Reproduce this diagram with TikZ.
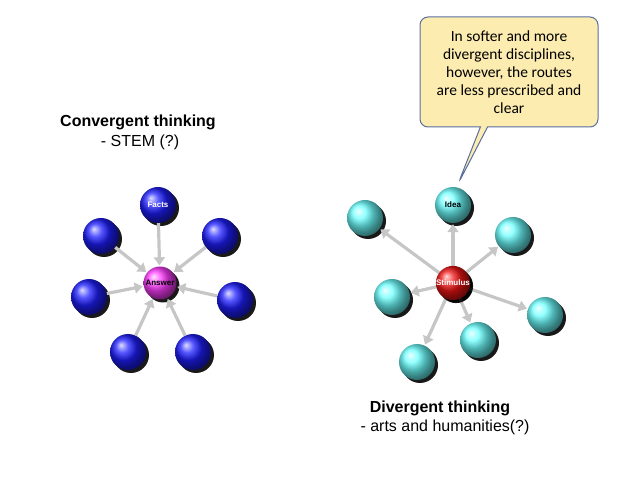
\documentclass[tikz,border=0pt]{standalone}
\usepackage{fontspec}
\setmainfont{Liberation Sans}
\newfontfamily\callfont{Carlito}
\usetikzlibrary{arrows.meta,shapes.callouts,shadows}
\definecolor{callfill}{RGB}{252,236,176}
\definecolor{callline}{RGB}{90,110,160}
\definecolor{bblue}{RGB}{30,30,255}
\definecolor{bcyan}{RGB}{110,255,255}
\definecolor{bmag}{RGB}{255,60,255}
\definecolor{bred}{RGB}{240,20,20}
\begin{document}
\begin{tikzpicture}[x=1pt,y=-1pt,
  ball/.style={circle,minimum size=36pt,inner sep=0pt,ball color=#1,draw=none,
     drop shadow={shadow xshift=3pt,shadow yshift=-3pt,fill=black,opacity=0.9}},
  hub/.style={circle,minimum size=33pt,inner sep=0pt,ball color=#1,draw=none,
     drop shadow={shadow xshift=3pt,shadow yshift=-3pt,fill=black,opacity=0.9}},
  arr/.style={draw=gray!45,line width=3.2pt,-{Triangle[length=8pt,width=11pt]},shorten >=1pt},
  lbl/.style={font=\fontsize{8}{9}\selectfont\bfseries}]
\useasboundingbox (0,0) rectangle (638,478);
% left
\node[hub=bmag,lbl] (ans) at (160,283) {Answer};
\node[ball=bblue,lbl,text=white] (facts) at (158,205) {Facts};
\node[ball=bblue] (l1) at (101,236) {};
\node[ball=bblue] (l2) at (220,236) {};
\node[ball=bblue] (l3) at (89,297) {};
\node[ball=bblue] (l4) at (235,300) {};
\node[ball=bblue] (l5) at (128,352) {};
\node[ball=bblue] (l6) at (193,352) {};
\foreach \n in {facts,l1,l2,l3,l4,l5,l6} \draw[arr] (\n) -- (ans);
% right
\node[ball=bcyan] (idea) at (453,205) {};
\node[lbl] at (idea) {Idea};
\node[ball=bcyan] (r1) at (365,218) {};
\node[ball=bcyan] (r2) at (513,235) {};
\node[ball=bcyan] (r3) at (392,297) {};
\node[ball=bcyan] (r4) at (545,315) {};
\node[ball=bcyan] (r5) at (478,340) {};
\node[ball=bcyan] (r6) at (417,362) {};
\node[hub=bred] (stim) at (453,283) {};
\foreach \n in {idea,r1,r2,r3,r4,r5,r6} \draw[arr] (stim) -- (\n);
\node[hub=bred,lbl,text=white] at (453,283) {Stimulus};
% texts
\node[font=\fontsize{16}{18}\selectfont\bfseries] (ct) at (138,122) {Convergent thinking};
\node[font=\fontsize{16}{18}\selectfont] (st) at (140,142) {- STEM (?)};
\node[font=\fontsize{16}{18}\selectfont\bfseries] (dt) at (440,408) {Divergent thinking};
\node[font=\fontsize{16}{18}\selectfont] (ah) at (445,427) {- arts and humanities(?)};
% callout
\coordinate (tip) at (458,184);
\node[rectangle callout,rounded corners=8pt,fill=callfill,draw=callline,line width=1pt,
  minimum width=178pt,minimum height=110pt,align=center,
  font=\callfont\fontsize{15.5}{18}\selectfont,callout absolute pointer={(tip)}] (co) at (509,72)
 {In softer and more\\divergent disciplines,\\however, the routes\\are less prescribed and\\clear};
\end{tikzpicture}
\end{document}
